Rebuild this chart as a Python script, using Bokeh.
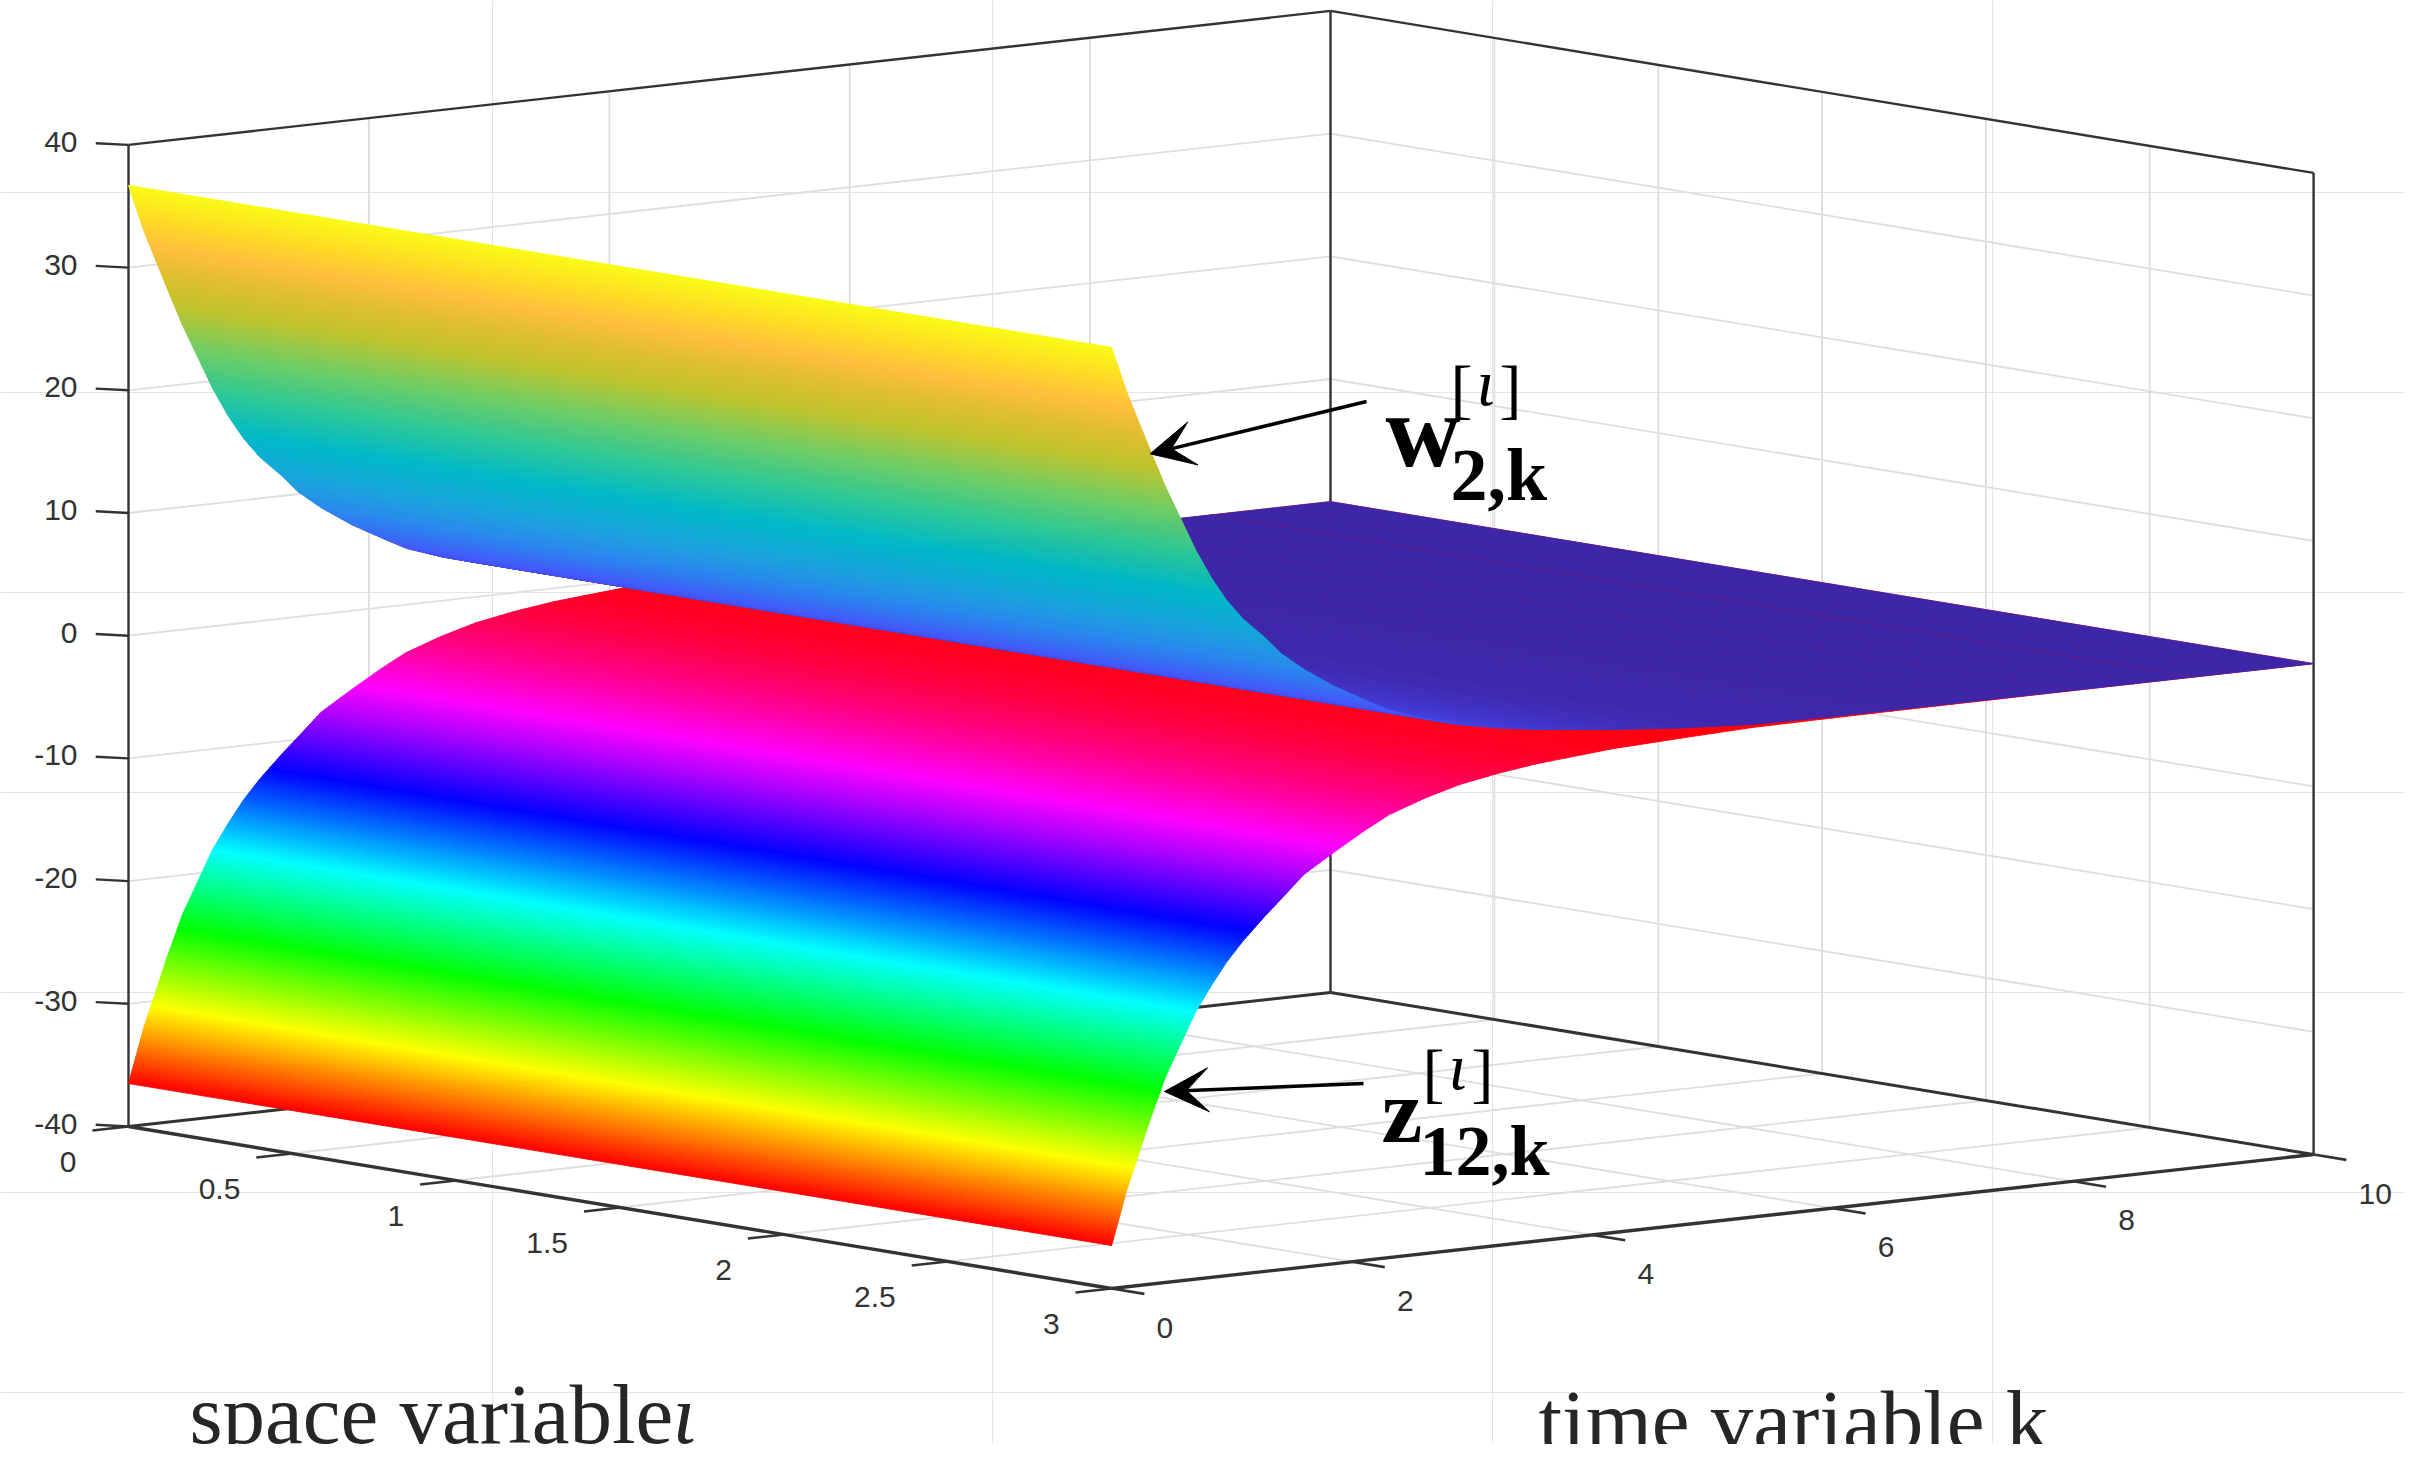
import numpy as np
from bokeh.plotting import figure
from bokeh.models import Range1d, Arrow, VeeHead
from bokeh.core.properties import value
from bokeh.embed import file_html
from bokeh.resources import INLINE

# ---- values -----------------------------------------------------------
k_values = [0, .13, .32, .45, .58, .70, .83, .96, 1.09, 1.28, 1.41, 1.60, 1.86, 2.10, 2.31,
            2.60, 2.89, 3.20, 3.53, 4.17, 4.74, 5.33, 6, 7, 8, 9, 10]
w_values = [36.7, 32.8, 28.0, 24.8, 22.0, 19.4, 17.0, 15.0, 13.4, 11.6, 10.2, 8.7, 7.0, 5.7, 4.6,
            3.6, 2.8, 2.2, 1.7, 1.0, .50, .15, .06, .03, .01, 0, 0]
z_values = [-36.5, -32.0, -26.6, -23.2, -20.6, -18.2, -16.2, -14.4, -12.9, -11.0, -9.8, -8.0, -6.4,
            -5.0, -3.9, -2.9, -2.1, -1.55, -1.1, -.56, -.32, -.10, -.05, -.02, -.01, 0, 0]
iota_limits = [0, 3]
k_limits = [0, 10]
z_limits = [-40, 40]
iota_ticks = [0, 0.5, 1, 1.5, 2, 2.5, 3]
iota_labels = ["0", "0.5", "1", "1.5", "2", "2.5", "3"]
k_ticks = [0, 2, 4, 6, 8, 10]
k_labels = ["0", "2", "4", "6", "8", "10"]
z_ticks = [-40, -30, -20, -10, 0, 10, 20, 30, 40]
z_labels = ["-40", "-30", "-20", "-10", "0", "10", "20", "30", "40"]

# ---- colour scales ----------------------------------------------------
WARM_POS = [0, .05, .12, .22, .32, .42, .52, .62, .72, .80, .86, .93, 1]
WARM_RGB = [(62, 38, 168), (66, 60, 215), (70, 85, 250), (45, 130, 240), (25, 165, 220), (0, 185, 200),
            (45, 200, 150), (110, 205, 100), (190, 195, 45), (225, 190, 45), (255, 190, 60),
            (255, 220, 35), (249, 251, 21)]
HUE_POS = [0, 1/6, 2/6, 3/6, 4/6, 5/6, 1]
HUE_RGB = [(255, 0, 0), (255, 255, 0), (0, 255, 0), (0, 255, 255), (0, 0, 255), (255, 0, 255), (255, 0, 0)]


def ramp(t, pos, rgb):
    c = [int(round(np.interp(t, pos, [q[n] for q in rgb]))) for n in range(3)]
    return "#%02x%02x%02x" % tuple(c)


# ---- fixed orthographic view (page pixels) -----------------------------
def project(i, k, z):
    i, k, z = np.asarray(i, float), np.asarray(k, float), np.asarray(z, float)
    return 136 + 327.7 * i + 120.2 * k, 1134 + 54 * i - 13.4 * k - 12.27 * (z + 40)


W, H = 2404, 1444
p = figure(width=W, height=H, x_range=Range1d(8, 8 + W), y_range=Range1d(8 + H, 8),
           x_axis_location=None, y_axis_location=None, toolbar_location=None,
           output_backend="svg", min_border=0, outline_line_color=None,
           background_fill_color="white", border_fill_color="white")

GRID = "#dedede"
DARK = "#333333"
i0, i1 = iota_limits
k0, k1 = k_limits
z0, z1 = z_limits


def seg(a, b, color, width):
    x, y = project([a[0], b[0]], [a[1], b[1]], [a[2], b[2]])
    p.line(x, y, line_color=color, line_width=width)


# back walls and floor grid
for k in k_ticks[1:-1]:
    seg((i0, k, z0), (i0, k, z1), GRID, 1.8)
    seg((i0, k, z0), (i1, k, z0), GRID, 1.8)
for i in iota_ticks[1:-1]:
    seg((i, k1, z0), (i, k1, z1), GRID, 1.8)
    seg((i, k0, z0), (i, k1, z0), GRID, 1.8)
for z in z_ticks[1:-1]:
    seg((i0, k0, z), (i0, k1, z), GRID, 1.8)
    seg((i0, k1, z), (i1, k1, z), GRID, 1.8)

# box
seg((i0, k0, z0), (i0, k0, z1), DARK, 2.4)
seg((i0, k1, z0), (i0, k1, z1), DARK, 2.4)
seg((i1, k1, z0), (i1, k1, z1), DARK, 2.4)
seg((i0, k0, z1), (i0, k1, z1), DARK, 2.4)
seg((i0, k1, z1), (i1, k1, z1), DARK, 2.4)
seg((i0, k0, z0), (i0, k1, z0), DARK, 3)
seg((i0, k1, z0), (i1, k1, z0), DARK, 3)
seg((i0, k0, z0), (i1, k0, z0), DARK, 3.4)
seg((i1, k0, z0), (i1, k1, z0), DARK, 3.4)

# ticks
for z in z_ticks:
    seg((i0, k0, z), (i0 - .1, k0, z - .3), DARK, 2.4)
for i in iota_ticks:
    seg((i, k0, z0), (i, k0 - .3, z0), DARK, 2.6)
for k in k_ticks:
    seg((i1, k, z0), (i1 + .1, k, z0), DARK, 2.6)

# ---- the two surfaces: painted from far (large k) to near, with the
# vertex values shaded across each cell (as "interp" shading does) -------
xs, ys, cols = [], [], []
wmax = max(w_values)
zmin = min(z_values)


def add_cell(ka, kb, va, vb, colour):
    n = max(1, int(np.ceil(abs(vb - va) / .12)), int(np.ceil((kb - ka) / .5)))
    for m in range(n, 0, -1):
        kp, kq = ka + (kb - ka) * (m - 1) / n, ka + (kb - ka) * m / n
        vp, vq = va + (vb - va) * (m - 1) / n, va + (vb - va) * m / n
        x, y = project([i0, i1, i1, i0], [kp, kp, kq, kq], [vp, vp, vq, vq])
        xs.append(list(x))
        ys.append(list(y))
        cols.append(colour((vp + vq) / 2))


warm = lambda v: ramp(v / wmax, WARM_POS, WARM_RGB)
hue = lambda v: ramp((v - zmin) / (0 - zmin), HUE_POS, HUE_RGB)
for c in range(len(k_values) - 2, -1, -1):
    add_cell(k_values[c], k_values[c + 1], z_values[c], z_values[c + 1], hue)
    add_cell(k_values[c], k_values[c + 1], w_values[c], w_values[c + 1], warm)
p.patches(xs, ys, fill_color=cols, line_color=cols, line_width=0.9)

# ---- tick labels ------------------------------------------------------
SANS = value("Liberation Sans")
x, y = project([i0] * len(z_ticks), [k0] * len(z_ticks), z_ticks)
p.text(x - 51, y - 3, text=z_labels, text_font=SANS, text_font_size="30px", text_color=DARK,
       text_align="right", text_baseline="middle")
x, y = project(iota_ticks, [k0] * len(iota_ticks), [z0] * len(iota_ticks))
p.text(x - 52, y + 35, text=iota_labels, text_font=SANS, text_font_size="30px", text_color=DARK,
       text_align="right", text_baseline="middle")
x, y = project([i1] * len(k_ticks), k_ticks, [z0] * len(k_ticks))
p.text(x + 45, y + 39, text=k_labels, text_font=SANS, text_font_size="30px", text_color=DARK,
       text_align="left", text_baseline="middle")

# ---- axis titles and annotations --------------------------------------
SERIF = value("Liberation Serif")


def label(px, py, s, size, style="normal", color="#262626", align="left"):
    p.text([px], [py], text=[s], text_font=SERIF, text_font_size=size, text_font_style=style,
           text_color=color, text_align=align, text_baseline="alphabetic")


label(197, 1421, "space variable", 85)if False else None
label(197, 1421, "space variable", "85px")
label(680, 1421, "\u03b9", "85px", "italic")
label(1546, 1427, "time variable k", "85px")

label(1393, 438, "w", "104px", "bold", "black")
label(1458, 482, "2,k", "74px", "bold", "black")
label(1458, 396, "[", "66px", "normal", "black")
label(1484, 390, "\u03b9", "66px", "italic", "black")
label(1507, 396, "]", "66px", "normal", "black")

label(1389, 1118, "z", "92px", "bold", "black")
label(1427, 1158, "12,k", "72px", "bold", "black")
label(1430, 1080, "[", "66px", "normal", "black")
label(1456, 1074, "\u03b9", "66px", "italic", "black")
label(1479, 1080, "]", "66px", "normal", "black")

# arrows end on the surface edges
ax, ay = project(i1, k_values[2], w_values[2])
p.add_layout(Arrow(end=VeeHead(size=44, fill_color="black", line_color="black", line_width=1),
                   x_start=1374, y_start=409, x_end=float(ax), y_end=float(ay) + 4,
                   line_color="black", line_width=3.5))
ax, ay = project(i1, k_values[2], z_values[2] - 8)
p.add_layout(Arrow(end=VeeHead(size=44, fill_color="black", line_color="black", line_width=1),
                   x_start=1371, y_start=1091, x_end=1172, y_end=1099,
                   line_color="black", line_width=3.5))

open("out.html", "w").write(file_html(p, INLINE))
